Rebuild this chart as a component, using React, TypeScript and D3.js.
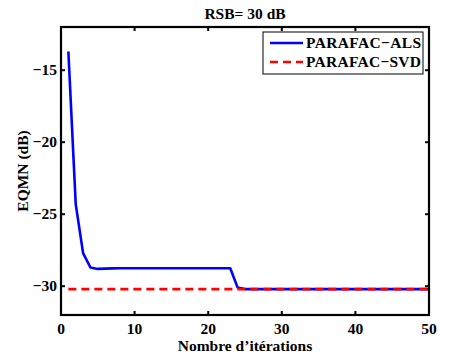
import React from "react";
import * as d3 from "d3";

const iterations: number[] = Array.from({ length: 50 }, (_, i) => i + 1);
const alsValues: number[] = [
  -13.7, -24.3, -27.7, -28.7, -28.8, -28.78, -28.76, -28.75, -28.75, -28.75,
  -28.75, -28.75, -28.75, -28.75, -28.75, -28.75, -28.75, -28.75, -28.75, -28.75,
  -28.75, -28.75, -28.75, -30.1, -30.2, -30.2, -30.2, -30.2, -30.2, -30.2,
  -30.2, -30.2, -30.2, -30.2, -30.2, -30.2, -30.2, -30.2, -30.2, -30.2,
  -30.2, -30.2, -30.2, -30.2, -30.2, -30.2, -30.2, -30.2, -30.2, -30.2,
];
const svdValues: number[] = iterations.map(() => -30.2);
const xTicks = [0, 10, 20, 30, 40, 50];
const yTicks = [-30, -25, -20, -15];
const seriesNames = ["PARAFAC\u2212ALS", "PARAFAC\u2212SVD"];

const W = 474, H = 355;
const L = 61, R = 429, T = 27, B = 315;
const font = "'Liberation Serif', 'Times New Roman', serif";

export default function App() {
  const x = d3.scaleLinear().domain([0, 50]).range([L, R]);
  const y = d3.scaleLinear().domain([-32, -12]).range([B, T]);
  const line = d3.line<number>().x((_, i) => x(iterations[i])).y((d) => y(d));
  const tl = 4;
  return (
    <svg width={W} height={H} style={{ position: "absolute", left: 0, top: 0, background: "#fff" }}>
      <rect x={0} y={0} width={W} height={H} fill="#fff" />
      <text x={245} y={19} textAnchor="middle" fontFamily={font} fontWeight="bold" fontSize={15.5}>RSB= 30 dB</text>
      <path d={line(alsValues) || ""} fill="none" stroke="#0000ff" strokeWidth={2.6} strokeLinejoin="round" />
      <path d={line(svdValues) || ""} fill="none" stroke="#ff0000" strokeWidth={2.7} strokeDasharray="8,5" />
      <rect x={L} y={T} width={R - L} height={B - T} fill="none" stroke="#000" strokeWidth={2.2} />
      {xTicks.map((t) => (
        <g key={"x" + t}>
          <line x1={x(t)} x2={x(t)} y1={B} y2={B - tl} stroke="#000" strokeWidth={2} />
          <line x1={x(t)} x2={x(t)} y1={T} y2={T + tl} stroke="#000" strokeWidth={2} />
          <text x={x(t)} y={334} textAnchor="middle" fontFamily={font} fontWeight="bold" fontSize={15.5}>{t}</text>
        </g>
      ))}
      {yTicks.map((t) => (
        <g key={"y" + t}>
          <line x1={L} x2={L + tl} y1={y(t)} y2={y(t)} stroke="#000" strokeWidth={2} />
          <line x1={R} x2={R - tl} y1={y(t)} y2={y(t)} stroke="#000" strokeWidth={2} />
          <text x={57} y={y(t) + 5} textAnchor="end" fontFamily={font} fontWeight="bold" fontSize={15.5}>{"\u2212" + Math.abs(t)}</text>
        </g>
      ))}
      <text x={245} y={351} textAnchor="middle" fontFamily={font} fontWeight="bold" fontSize={15.5}>Nombre d’itérations</text>
      <text transform={`translate(28,${(T + B) / 2}) rotate(-90)`} textAnchor="middle" fontFamily={font} fontWeight="bold" fontSize={15.5}>EQMN (dB)</text>
      <rect x={263} y={32} width={160} height={42} fill="#fff" stroke="#000" strokeWidth={1} />
      <line x1={270} x2={303} y1={43} y2={43} stroke="#0000ff" strokeWidth={2.6} />
      <line x1={270} x2={303} y1={62} y2={62} stroke="#ff0000" strokeWidth={2.7} strokeDasharray="8,5" />
      <text x={306} y={48} fontFamily={font} fontWeight="bold" fontSize={15.5} textLength={115}>{seriesNames[0]}</text>
      <text x={306} y={67} fontFamily={font} fontWeight="bold" fontSize={15.5} textLength={115}>{seriesNames[1]}</text>
    </svg>
  );
}
